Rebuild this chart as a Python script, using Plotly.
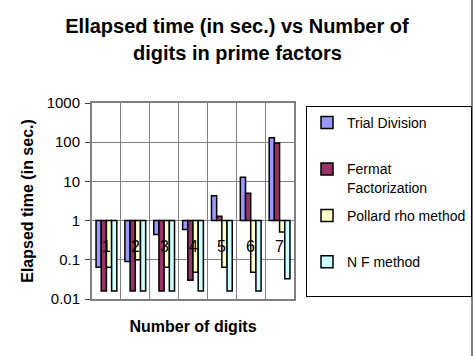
import plotly.graph_objects as go

categories = ["1", "2", "3", "4", "5", "6", "7"]
trial_division = [0.065, 0.091, 0.44, 0.59, 4.3, 12.7, 129]
fermat = [0.016, 0.016, 0.016, 0.03, 1.29, 5.0, 96]
pollard_rho = [0.065, 0.1, 0.065, 0.048, 0.065, 0.048, 0.51]
nf_method = [0.016, 0.016, 0.016, 0.016, 0.016, 0.016, 0.033]
y_ticks = [0.01, 0.1, 1, 10, 100, 1000]
y_tick_labels = ["0.01", "0.1", "1", "10", "100", "1000"]

series = [
    ("Trial Division<br> ", trial_division, "#9999FF"),
    ("Fermat<br>Factorization", fermat, "#993366"),
    ("Pollard rho method<br> ", pollard_rho, "#FFFFCC"),
    ("N F method<br> ", nf_method, "#CCFFFF"),
]

W, H = 474, 356
L, R, T, B = 92, 180, 103, 57
FONT = "Liberation Sans, Arial, sans-serif"

fig = go.Figure()
for i, (name, vals, color) in enumerate(series):
    fig.add_trace(go.Bar(
        x=categories,
        y=[v - 1 for v in vals],
        base=1,
        name=name,
        legendgroup=f"g{i}",
        marker=dict(color=color, line=dict(color="black", width=1.5)),
    ))

annotations = []
for idx, c in enumerate(categories):
    annotations.append(dict(
        x=idx, y=-0.66, xref="x", yref="y", text=c, showarrow=False,
        xanchor="center", yanchor="middle",
        font=dict(family=FONT, size=16, color="black"),
    ))
annotations.append(dict(
    x=(237 - L) / (W - L - R), y=(H - B - 53) / (H - T - B),
    xref="paper", yref="paper",
    xanchor="center", yanchor="middle",
    text="<b>digits in prime factors</b>", showarrow=False,
    font=dict(family=FONT, size=20, color="black"),
))

fig.update_layout(
    width=W, height=H,
    margin=dict(l=L, r=R, t=T, b=B, autoexpand=False),
    paper_bgcolor="white", plot_bgcolor="white",
    barmode="group", bargap=0.28, bargroupgap=0,
    font=dict(family=FONT, color="black"),
    title=dict(
        text="<b>Ellapsed time (in sec.) vs Number of</b>",
        xref="container", yref="container",
        x=237 / W, xanchor="center", y=1 - 26 / H, yanchor="middle",
        font=dict(size=20, color="black"),
    ),
    xaxis=dict(
        type="category", tickson="boundaries", showticklabels=False,
        range=[-0.5, 6.5],
        showgrid=True, gridcolor="#808080", gridwidth=1,
        showline=True, linecolor="#808080", linewidth=2, mirror=True,
        ticks="", zeroline=False,
        title=dict(text="<b>Number of digits</b>", font=dict(size=16), standoff=21),
    ),
    yaxis=dict(
        type="log", range=[-2, 3],
        tickvals=y_ticks, ticktext=y_tick_labels,
        ticks="outside", ticklen=5, tickcolor="#404040",
        tickfont=dict(size=15), ticklabelstandoff=2,
        showgrid=True, gridcolor="#808080", gridwidth=1,
        showline=True, linecolor="#808080", linewidth=2, mirror=True,
        zeroline=False,
        title=dict(text="<b>Elapsed time (in sec.)</b>", font=dict(size=16), standoff=9),
    ),
    legend=dict(
        xref="container", yref="container",
        x=306 / W, y=1 - 106 / H, xanchor="left", yanchor="top",
        bordercolor="black", borderwidth=1, bgcolor="white",
        font=dict(size=14, color="black"),
        traceorder="grouped", tracegroupgap=7, valign="top",
        itemwidth=30, maxheight=320,
    ),
    annotations=annotations,
    shapes=[dict(type="line", xref="paper", yref="paper",
                 x0=(472 - L) / (W - L - R), x1=(472 - L) / (W - L - R),
                 y0=(H - B) / (H - T - B), y1=(H - B - H) / (H - T - B),
                 line=dict(color="#808080", width=2))],
)

fig.write_html(
    "out.html",
    config={"displayModeBar": False},
    post_script="document.body.style.margin='0';document.body.style.overflow='hidden';",
)
